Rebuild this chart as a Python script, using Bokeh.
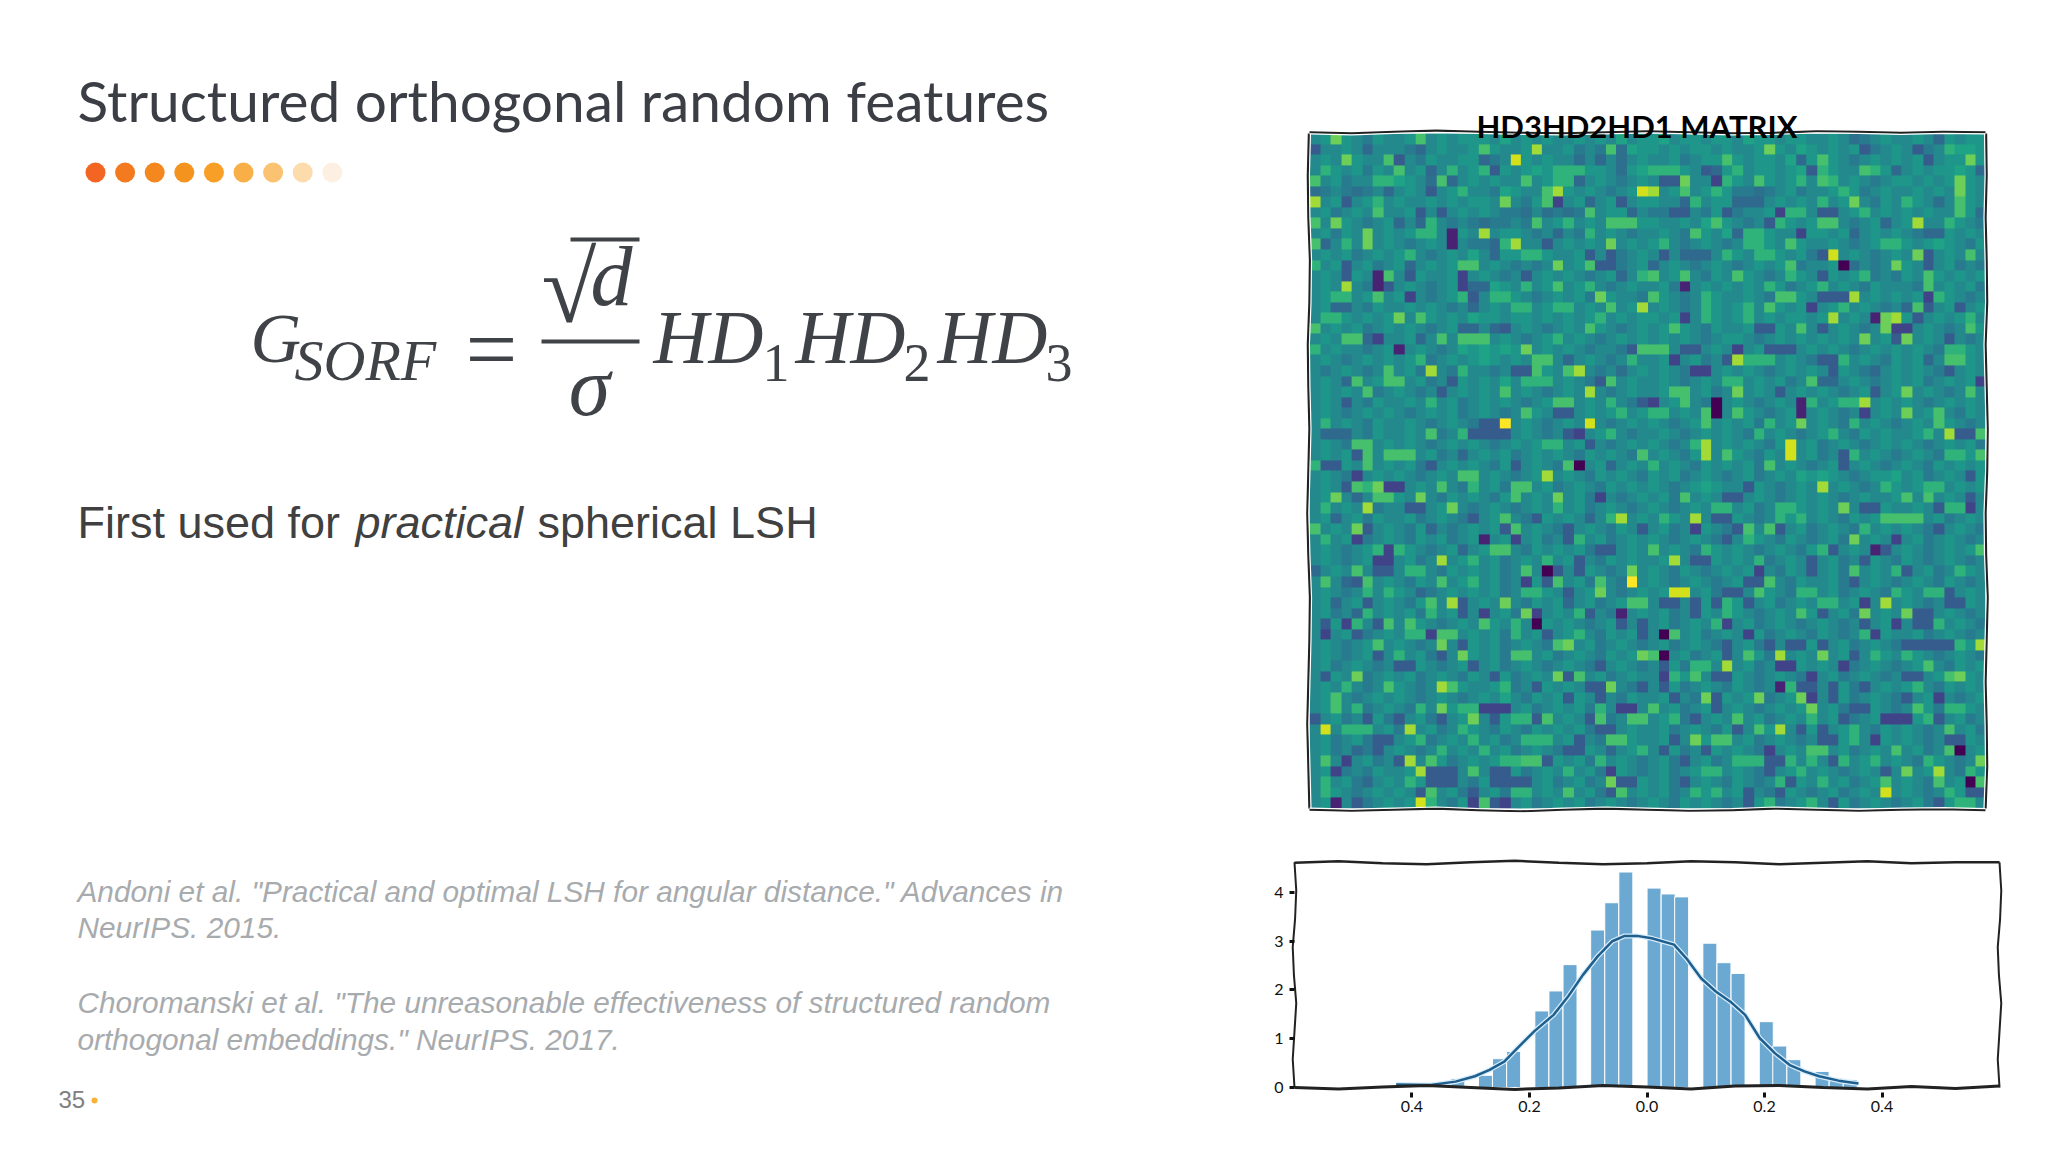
from bokeh.core.properties import value
from bokeh.embed import file_html
from bokeh.resources import INLINE
from bokeh.plotting import figure
from bokeh.layouts import row, column
from bokeh.models import Range1d, FixedTicker, Label
from bokeh.palettes import Viridis256
from bokeh.models import LinearColorMapper
import numpy as np

# ---------- data ----------
# Matrix cells, one hex tone per cell (0 = darkest purple, F = yellow). The
# conspicuous cells are read from zoomed crops; mid-tones are rough estimates.
matrix_rows = [
"78C87687 78B78788 87978787 78787978 89788788 79887887 78756787 78748788",
"37787477 76478778 B8778D77 8676B598 87878878 778C8798 78783678 7367A998",
"787C877B 37687788 467E8787 75747578 7786788B 87887948 B8767878 783788C8",
"7A878687 B7847A78 A387898A AA887589 AAA87348 A7887893 A877BA84 78788984",
"B78677AA 9875B478 7877B78A A4787678 733C772A 87B878A7 BA787678 87878C87",
"56765674 787378A7 769877BD 8787678E D78B78A8 66567867 78A86787 78787C87",
"D78378A7 87787878 87C768B2 78478378 8774A788 44478787 A78C7687 A8757B87",
"786787B7 78373787 87665756 56B78847 66337683 67782AA7 3378A787 87877B85",
"B7C87678 474A7676 56676B78 A787BBB8 877879B8 7673A878 BB767847 8D77A876",
"78687C78 78AA7187 D7887674 76A78767 7876B879 4AA87728 87847878 76448787",
"B47A7C78 76787176 64AD7737 8787C787 8A767876 7AA87B87 787678AA 87898768",
"78786787 8A767879 7488AA87 78373678 7374447A 87AA8786 3E787678 7C3787B7",
"A7837867 847878BB 7876767C 78B33678 47876787 67878B67 7805767C 87378676",
"7873871B 73877827 87673787 8767847A B78B7687 B8767A87 3878A676 87B87878",
"787D7613 78767824 4987A78B 78A76787 78617878 787A8678 A7876877 76B78786",
"78AA78B7 827678A3 7AA87678 786C8776 B8767A87 7876BB87 333D7878 782A8767",
"78447687 78787674 787AA78A A787B78D 78767A87 8A7B8782 78A78767 4B378378",
"7AA87878 C7B87879 88788787 878A7878 87827A87 8A787887 8D7871CD 837878A7",
"B7878678 78767844 74378767 87B87678 78B87687 783387B7 378767C2 278767B8",
"787BB427 7847B7BB B787678A 78767878 78787678 87678787 8787C783 C7873767",
"A7877678 17876798 9898C787 8767763B BB733787 27833378 78767878 7876AA87",
"78767878 78A67878 98787BB7 478767A7 78278673 DAAA7876 33A78768 7847BB87",
"7678767B 786D76A7 76733B87 BD767578 78762278 78767878 73876478 78763787",
"7874B78B B7867387 8797AAA7 8763B787 7876787A A787867B 44787678 78678782",
"78787B67 87673787 87B78767 87D76787 78BB7867 C7873787 87678378 C78767B7",
"78737687 787A7867 8787678B B787A763 278B7607 8767871A 78AAD787 87678787",
"78767878 76787867 8767B873 37878A78 AA787B07 B8767817 87672787 C78B7687",
"7A787687 78767876 33F78767 87E76787 87678B78 786A78C7 876A7876 787B8767",
"74447687 787B67A3 33378767 3278A767 78767878 76A78767 8A768787 78A7D33B",
"7876BB78 78767878 767878AA 78376787 8767AD78 78768E78 67876787 87678786",
"78783B7B BB786747 87867878 7687876B 78768D7B 87687E78 673A7876 7876AA8B",
"A3387B78 78637878 76837876 B0784787 A7876878 786B7876 78378767 87687878",
"78762787 876787BB 787678D7 87687876 87867876 78678798 98767889 78678738",
"7873BAC2 2787B76A 786BB786 78768787 87678987 73876787 D78767A8 78AA7878",
"78C747BB 87C76878 768B787C 78627678 786B7873 37876787 87678778 B7B78737",
"7A787D67 73378C76 7876787A 78678767 876787AA 7867AA87 87C73387 7873AA27",
"78478687 78678763 78B76387 8747AD78 7A87D733 8767A8A7 876878BB BB786787",
"B787C378 76847678 783B7876 37876873 78672876 3B7B3786 7876A787 87637876",
"7A782678 76878678 17827867 3A786787 87678763 7A876876 786C7872 78678767",
"787678A2 A8767847 8BB76878 78633787 B7876A87 87678768 A3787137 8767878B",
"78767822 7867D78A 786787A7 83768787 78D73387 87A67873 78673876 87678767",
"4787B733 7AA76878 7867B703 738767C7 87687678 78276873 786B787A 37867A87",
"7B743B78 7687B78A 7867283B 786B76F7 87678767 833B7687 78637876 78768767",
"78767A7A 87467878 7867AA87 378C7678 78EE7863 37B876AA 7867876A 87AA3787",
"78478378 768B7D37 87C76878 478678BB 7337383A 83786787 AA7827D7 87673387",
"78674A78 786A7837 2786C278 7A376178 7867387A 876787B8 3786C787 C3378767",
"7382A73B 7B876787 B87A7087 87678373 786787A2 78678767 87673782 733A7876",
"72783678 7AA2BB78 786A7837 8A768783 70B78678 72867876 8767A287 78678767",
"787678B7 8767C738 7867876B C7867876 78678763 78637338 37867876 33333A8D",
"78767837 A78637C8 786BB786 7876878C B0786783 7B86D787 C7837A87 A8767876",
"78678767 33876783 78678767 87637876 7386AA7D 78672287 87267876 78B76878",
"7387C678 78678768 7386787C 3B786787 72A8B733 87678762 78678767 3378BC87",
"787A767B 8767DB87 78A67387 8733C763 73867876 87671A33 73863787 8A768787",
"78B76787 87678767 87976878 38737687 78376C38 78C678C2 73867876 37827678",
"78B7A678 76A7C8AA 22278678 786A7227 B7867837 8767878C 78633876 7B86AA87",
"37867386 3786378C 738AA3B7 873B67BB 78A63787 B786787A 78367822 28A37867",
"7E7AAA78 6D7867A8 76876878 78633787 78678768 37B8D738 378A7687 8767B786",
"78678633 78A6787A 7867AAA7 8376BB87 7837C8BB 78678767 338A7287 87673387",
"78674637 8767A787 A7867876 3387478A 73867387 8762787B B786787B 7867B078",
"7B727867 3D7B8678 78AABB38 786A7876 78637867 AAA33A7A 73A78A78 76A8767C",
"78267687 78D3337B 73386787 A7862876 78678AA7 876378A7 87678737 C78D76A8",
"7A786478 7A833376 83333786 7867C338 78637876 8767A387 A78678B7 876B780B",
"7A876787 873B7863 786AA787 B7863B78 7867A8A7 83763876 786787E7 8767A833",
"78173678 78EA7682 B3278678 78678767 87687876 738A678A 73867876 78638AA7",
]
# value (0..1 on the viridis scale) that each hex tone stands for
tone_levels = [0.0, 0.10, 0.20, 0.29, 0.34, 0.37, 0.41, 0.47,
               0.53, 0.58, 0.65, 0.71, 0.78, 0.86, 0.93, 1.0]
matrix_title = "HD3HD2HD1 MATRIX"

bin_centers = [-0.418, -0.394, -0.370, -0.346, -0.322, -0.275, -0.251, -0.227,
               -0.179, -0.155, -0.131, -0.084, -0.060, -0.036, 0.012, 0.036,
               0.059, 0.107, 0.131, 0.155, 0.203, 0.226, 0.250, 0.298, 0.322,
               0.346, 0.489]
bin_heights = [0.05, 0.05, 0.05, 0.10, 0.18, 0.25, 0.59, 0.74,
               1.57, 1.98, 2.52, 3.23, 3.79, 4.42, 4.09, 3.97,
               3.91, 2.96, 2.56, 2.34, 1.35, 0.85, 0.57, 0.33, 0.19,
               0.16, 0.03]
kde_x = [-0.427, -0.368, -0.326, -0.293, -0.268, -0.243, -0.218, -0.192, -0.159,
         -0.134, -0.109, -0.084, -0.059, -0.038, -0.017, 0.008, 0.046, 0.067,
         0.092, 0.117, 0.142, 0.167, 0.192, 0.218, 0.243, 0.268, 0.293, 0.326, 0.360]
kde_y = [0.06, 0.05, 0.12, 0.23, 0.36, 0.53, 0.84, 1.15, 1.49,
         1.87, 2.31, 2.69, 3.00, 3.11, 3.11, 3.06, 2.93, 2.65,
         2.24, 1.97, 1.76, 1.49, 1.01, 0.70, 0.46, 0.33, 0.23, 0.14, 0.08]
hist_xticks = [-0.4, -0.2, 0.0, 0.2, 0.4]
hist_xlabels = ["0.4", "0.2", "0.0", "0.2", "0.4"]
hist_yticks = [0, 1, 2, 3, 4]

# hand-drawn (xkcd style) frame lines
heat_stops = [0, 4, 8, 12, 16, 20, 24, 28, 32, 36, 40, 44, 48, 52, 56, 60, 64]
heat_top = [64.1, 64.0, 64.15, 64.25, 64.15, 64.05, 64.0, 64.1, 64.2, 64.1, 64.0, 64.05, 64.2, 64.15, 64.05, 64.15, 64.1]
heat_bottom = [-0.1, -0.2, -0.1, 0.0, -0.15, -0.25, -0.1, 0.0, -0.1, -0.2, -0.15, 0.0, -0.1, -0.2, -0.1, -0.05, -0.15]
heat_left = [0.0, -0.1, -0.2, -0.1, 0.0, 0.05, -0.1, -0.2, -0.1, 0.0, -0.1, -0.15, 0.0, 0.05, -0.1, -0.15, -0.05]
heat_right = [64.0, 64.15, 64.1, 64.0, 64.1, 64.2, 64.05, 64.0, 64.15, 64.2, 64.1, 64.0, 64.15, 64.1, 64.0, 64.1, 64.05]

hist_stops_x = [-0.6, -0.525, -0.45, -0.375, -0.3, -0.225, -0.15, -0.075, 0.0,
                0.075, 0.15, 0.225, 0.3, 0.375, 0.45, 0.525, 0.6]
hist_top = [4.61, 4.64, 4.60, 4.58, 4.62, 4.65, 4.61, 4.58, 4.60, 4.64, 4.62, 4.58, 4.61, 4.64, 4.60, 4.62, 4.62]
hist_bottom = [0.0, -0.03, 0.01, 0.04, 0.0, -0.04, -0.01, 0.04, 0.01, -0.03, 0.03, 0.04, 0.0, -0.03, 0.02, -0.02, 0.03]
hist_stops_y = [0.0, 0.58, 1.15, 1.73, 2.31, 2.88, 3.46, 4.04, 4.62]
hist_left = [-0.6, -0.603, -0.600, -0.597, -0.601, -0.603, -0.599, -0.597, -0.600]
hist_right = [0.6, 0.597, 0.600, 0.603, 0.599, 0.597, 0.601, 0.603, 0.600]

slide_title = "Structured orthogonal random features"
dot_colors = ["#F26522", "#F47A20", "#F5871F", "#F5931F", "#F79F26",
              "#F9AF48", "#FBC271", "#FCDBAC", "#FDF0E2"]
refs = ['Andoni et al. "Practical and optimal LSH for angular distance." Advances in',
        'NeurIPS. 2015.',
        'Choromanski et al. "The unreasonable effectiveness of structured random',
        'orthogonal embeddings." NeurIPS. 2017.']

# ---------- slide (coordinates are page pixels) ----------
slide = figure(width=1248, height=1144, output_backend="svg", toolbar_location=None,
               x_range=Range1d(0, 1248), y_range=Range1d(1144, 0),
               min_border=0, outline_line_color=None)
slide.axis.visible = False
slide.grid.visible = False


def put(x, y, s, size, color="#3F4247", font="Liberation Sans", style="normal", align="left"):
    slide.add_layout(Label(x=x, y=y, text=s, text_font=font, text_font_size=f"{size}px",
                           text_font_style=style, text_color=color, text_align=align,
                           text_baseline="alphabetic"))


put(77, 99, slide_title, 56.8, "#3B3F45", "Lato")
slide.scatter([95 + 29.6 * i for i in range(9)], [172] * 9, size=20, color=dot_colors, line_color=None)

MATH = "Liberation Serif"
put(250, 338, "G", 70, "#3F4247", MATH, "italic")
put(294, 360, "SORF", 58, "#3F4247", MATH, "italic")
put(465, 348, "=", 92, "#3F4247", MATH)
put(541, 288, "√", 100, "#3F4247", MATH)
put(590, 276, "d", 84, "#3F4247", MATH, "italic")
put(589, 386, "σ", 84, "#3F4247", MATH, "italic", "center")
slide.line([541, 639], [341, 341], line_color="#3F4247", line_width=4)
slide.line([570, 639], [239, 239], line_color="#3F4247", line_width=4)
for xh, sub, xs in [(653, "1", 762), (795, "2", 903), (937, "3", 1045)]:
    put(xh, 336, "HD", 76, "#3F4247", MATH, "italic")
    put(xs, 362, sub, 54, "#3F4247", MATH)

put(77, 522, "First used for ", 45, "#404040")
put(355, 522, "practical", 45, "#404040", style="italic")
put(537, 522, "spherical LSH", 45, "#404040")
for y, s in zip([891, 927, 1002, 1039], refs):
    put(77, y, s, 29.8, "#A8ABAE", style="italic")
put(58, 1099, "35", 24, "#808080")
slide.scatter([94], [1100], size=6, color="#F9B233", line_color=None)

# ---------- matrix ----------
grid = np.array([[tone_levels[int(c, 16)] for c in r.replace(" ", "")] for r in matrix_rows])
heat = figure(width=792, height=840, output_backend="svg", toolbar_location=None,
              x_range=Range1d(-0.38, 64.38), y_range=Range1d(-0.38, 66.65),
              min_border_left=57, min_border_right=51, min_border_top=105, min_border_bottom=28,
              outline_line_color=None)
heat.axis.visible = False
heat.grid.visible = False
heat.image(image=[grid[::-1]], x=0, y=0, dw=64, dh=64,
           color_mapper=LinearColorMapper(palette=Viridis256, low=0, high=1))
for lw, col, inset in [(2.4, "#222222", 0.0), (1.2, "#FFFFFF", 0.14)]:
    heat.line(heat_stops, [v - inset for v in heat_top], line_color=col, line_width=lw)
    heat.line(heat_stops, [v + inset for v in heat_bottom], line_color=col, line_width=lw)
    heat.line([v + inset for v in heat_left], heat_stops, line_color=col, line_width=lw)
    heat.line([v - inset for v in heat_right], heat_stops, line_color=col, line_width=lw)
heat.text([31], [64.7], text=[matrix_title], text_font=value("Lato"), text_font_size=value("31px"),
          text_font_style="bold", text_color="#000000", text_align="center",
          text_baseline="middle")

# ---------- histogram ----------
hist = figure(width=792, height=304, output_backend="svg", toolbar_location=None,
              x_range=Range1d(-0.6085, 0.6085), y_range=Range1d(-0.103, 4.718),
              min_border_left=41, min_border_right=36, min_border_top=17, min_border_bottom=52,
              outline_line_color=None)
hist.grid.visible = False
hist.vbar(x=bin_centers, top=bin_heights, width=0.0238, color="#6BA8D2",
          line_color="#FFFFFF", line_width=1)
hist.line(kde_x, kde_y, line_color="#D6ECFA", line_width=5)
hist.line(kde_x, kde_y, line_color="#1F5F8E", line_width=2.5)
hist.line(hist_stops_x, hist_top, line_color="#222222", line_width=2.5)
hist.line(hist_stops_x, hist_bottom, line_color="#222222", line_width=3)
hist.line(hist_left, hist_stops_y, line_color="#222222", line_width=2)
hist.line(hist_right, hist_stops_y, line_color="#222222", line_width=2)
hist.xaxis.ticker = FixedTicker(ticks=hist_xticks)
hist.yaxis.ticker = FixedTicker(ticks=hist_yticks)
hist.xaxis.major_label_overrides = {t: l for t, l in zip(hist_xticks, hist_xlabels)}
for ax in (hist.xaxis[0], hist.yaxis[0]):
    ax.axis_line_color = None
    ax.minor_tick_line_color = None
    ax.major_tick_line_color = "#111111"
    ax.major_tick_line_width = 3
    ax.major_tick_in = 0
    ax.major_tick_out = 5
    ax.major_label_standoff = 3
    ax.major_label_text_font = "Lato"
    ax.major_label_text_font_size = "16px"
    ax.major_label_text_color = "#111111"
hist.yaxis[0].major_tick_in = 5
hist.yaxis[0].major_tick_out = 0
hist.yaxis[0].major_label_standoff = 6

page = row(slide, column(row(heat), row(hist), spacing=0), spacing=0)
open("out.html", "w").write(file_html(page, INLINE))
